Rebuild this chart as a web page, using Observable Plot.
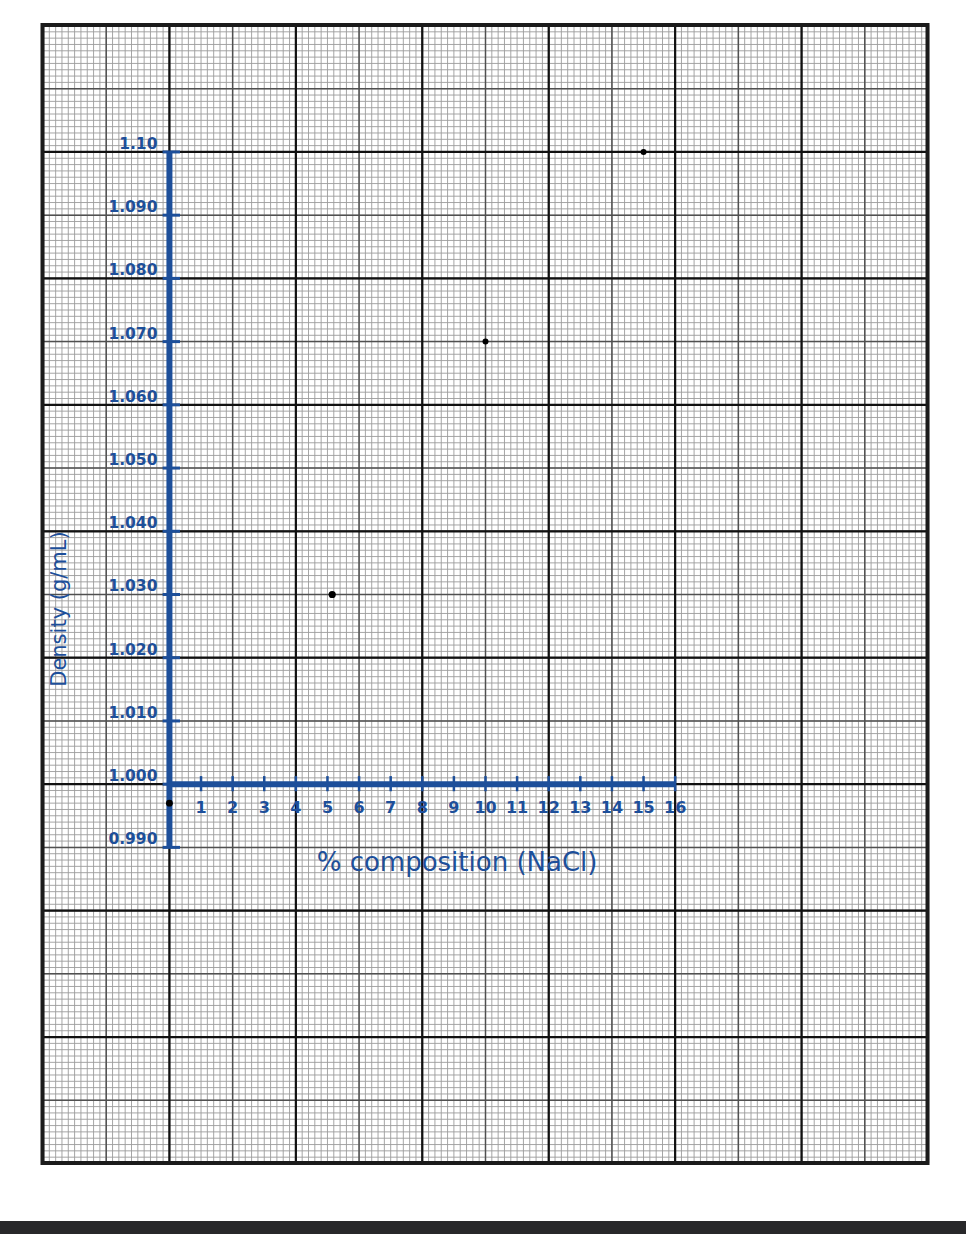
<!DOCTYPE html>
<html><head><meta charset="utf-8">
<script src="https://cdn.jsdelivr.net/npm/d3@7"></script>
<script src="https://cdn.jsdelivr.net/npm/@observablehq/plot@0.6"></script>
<style>
html,body{margin:0;padding:0;background:#fff;}
#chart svg{display:block;}
#bar{height:13px;background:#28282a;}
</style></head><body>
<div id="chart"></div><div id="bar"></div>
<script>
// Data
const composition = [0, 5.15, 10, 15];          // % NaCl
const density = [0.997, 1.030, 1.070, 1.100];    // g/mL

// Tick values and hand-written tick labels
const yTickValues = [1.10, 1.09, 1.08, 1.07, 1.06, 1.05, 1.04, 1.03, 1.02, 1.01, 1.00, 0.99];
const yTickLabels = ["1.10", "1.090", "1.080", "1.070", "1.060", "1.050", "1.040", "1.030", "1.020", "1.010", "1.000", "0.990"];
const xTickValues = [1, 2, 3, 4, 5, 6, 7, 8, 9, 10, 11, 12, 13, 14, 15, 16];
const xTickLabels = ["1", "2", "3", "4", "5", "6", "7", "8", "9", "10", "11", "12", "13", "14", "15", "16"];
const xTitle = "% composition (NaCl)";
const yTitle = "Density (g/mL)";

// Graph-paper extent (in data units)
const paperX = [-4, 24];
const paperY = [0.94, 1.12];

const points = composition.map((c, i) => ({composition: c, density: density[i]}));

const fineX = d3.range(0, 141).map(i => paperX[0] + i * 0.2);
const midX = d3.range(0, 15).map(i => paperX[0] + i * 2);
const majorX = d3.range(0, 8).map(i => paperX[0] + i * 4);
const fineY = d3.range(0, 181).map(i => paperY[0] + i * 0.001);
const midY = d3.range(0, 19).map(i => paperY[0] + i * 0.01);
const majorY = d3.range(0, 10).map(i => paperY[0] + i * 0.02);

const blue = "#1d4f9a";
const font = "DejaVu Sans";
const dotRadius = [5, 5.5, 3.8, 3.8];

const chart = Plot.plot({
  width: 966,
  height: 1221,
  margin: 0,
  x: {domain: paperX, range: [42.5, 927.5], axis: null},
  y: {domain: paperY, range: [1163, 25], axis: null},
  style: {fontFamily: font, background: "#fff"},
  marks: [
    // graph paper
    Plot.ruleX(fineX, {x: d => d, y1: paperY[0], y2: paperY[1], stroke: "#9c9c9c", strokeWidth: 0.9}),
    Plot.ruleY(fineY, {y: d => d, x1: paperX[0], x2: paperX[1], stroke: "#9c9c9c", strokeWidth: 0.9}),
    Plot.ruleX(midX, {x: d => d, y1: paperY[0], y2: paperY[1], stroke: "#505050", strokeWidth: 1.5}),
    Plot.ruleY(midY, {y: d => d, x1: paperX[0], x2: paperX[1], stroke: "#505050", strokeWidth: 1.5}),
    Plot.ruleX(majorX, {x: d => d, y1: paperY[0], y2: paperY[1], stroke: "#111", strokeWidth: 2.2}),
    Plot.ruleY(majorY, {y: d => d, x1: paperX[0], x2: paperX[1], stroke: "#111", strokeWidth: 2.2}),
    Plot.rect([0], {x1: paperX[0], x2: paperX[1], y1: paperY[0], y2: paperY[1], fill: "none", stroke: "#1b1b1b", strokeWidth: 4}),

    // hand-drawn axes
    Plot.ruleY(yTickValues, {y: d => d, x1: -0.2, x2: 0.35, stroke: blue, strokeWidth: 3}),
    Plot.ruleX([0], {x: d => d, y1: d3.min(yTickValues), y2: d3.max(yTickValues), stroke: blue, strokeWidth: 6}),
    Plot.ruleX(xTickValues, {x: d => d, y1: 0.9988, y2: 1.0012, stroke: blue, strokeWidth: 2.5}),
    Plot.ruleY([1.0], {y: d => d, x1: 0, x2: d3.max(xTickValues), stroke: blue, strokeWidth: 6}),

    // tick labels
    Plot.text(yTickValues, {x: 0, y: d => d, text: (d, i) => yTickLabels[i], textAnchor: "end", dx: -12, dy: -8,
      fill: blue, fontSize: 15.5, fontWeight: "bold"}),
    Plot.text(xTickValues, {x: d => d, y: 1.0, text: (d, i) => xTickLabels[i], dy: 24,
      fill: blue, fontSize: 16, fontWeight: "bold"}),

    // axis titles
    Plot.text([xTitle], {x: 9.1, y: 0.9876, text: d => d, fill: blue, fontSize: 26, fontWeight: 500}),
    Plot.text([yTitle], {x: -3.5, y: 1.0277, text: d => d, rotate: -90, fill: blue, fontSize: 21, fontWeight: 500}),

    // data points
    Plot.dot(points, {x: "composition", y: "density", fill: "#000", stroke: "none", r: (d, i) => dotRadius[i]})
  ]
});
document.getElementById("chart").appendChild(chart);
</script>
</body></html>
